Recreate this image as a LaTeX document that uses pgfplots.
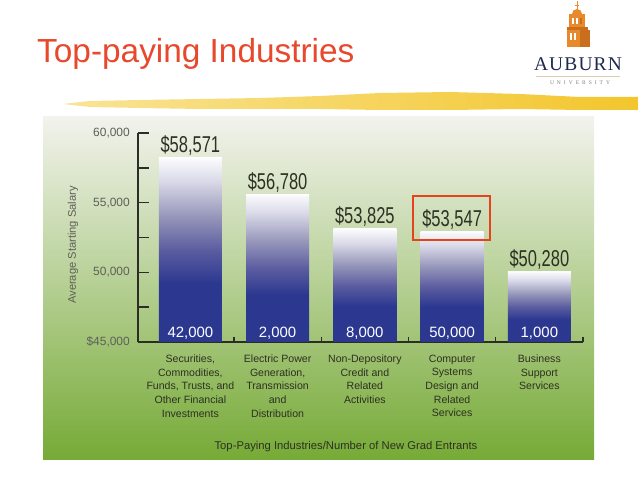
\documentclass[border=0pt]{standalone}
\usepackage{pgfplots}
\pgfplotsset{compat=1.18}
\usepackage{pgfplotstable}
\usepackage{fontspec}
\setmainfont{Liberation Sans}
\newfontfamily\narrowfont[FakeStretch=0.72]{Liberation Sans}
\newfontfamily\serifcaps[LetterSpace=6]{Liberation Serif}
\newfontfamily\tinycaps[LetterSpace=55]{Liberation Serif}

\definecolor{titlecol}{RGB}{232,72,44}
\definecolor{pTop}{RGB}{242,243,237}
\definecolor{pMid}{RGB}{189,210,145}
\definecolor{pBot}{RGB}{118,170,54}
\definecolor{bTop}{RGB}{246,246,250}
\definecolor{bT2}{RGB}{220,220,234}
\definecolor{bM1}{RGB}{150,150,186}
\definecolor{bM2}{RGB}{92,93,160}
\definecolor{bBot}{RGB}{44,56,144}
\definecolor{axcol}{RGB}{45,45,40}
\definecolor{tickcol}{RGB}{95,95,90}
\definecolor{labcol}{RGB}{45,48,35}
\definecolor{boxred}{RGB}{229,66,30}
\definecolor{auorange}{RGB}{232,137,43}
\definecolor{auorangeD}{RGB}{200,110,30}
\definecolor{aunavy}{RGB}{30,42,80}
\definecolor{yel}{RGB}{243,198,45}
\definecolor{yelL}{RGB}{249,228,150}
\definecolor{aurule}{RGB}{220,205,175}

\pgfdeclareverticalshading{barshade}{100bp}{color(0bp)=(bBot); color(25bp)=(bBot); color(41bp)=(bBot); color(50bp)=(bM2); color(59bp)=(bM1); color(69bp)=(bT2); color(74bp)=(bTop); color(75bp)=(white); color(100bp)=(white)}

\pgfplotstableread{
x sal lbl n
0 58240 58,571 42,000
1 55620 56,780 2,000
2 53120 53,825 8,000
3 52950 53,547 50,000
4 50070 50,280 1,000
}\datatable

\begin{document}
\begin{tikzpicture}
\useasboundingbox (0,0) rectangle (638bp,479bp);
\fill[white] (0,0) rectangle (638bp,479bp);
\begin{scope}[x=1bp,y=1bp]
  % green panel
  \shade[top color=pTop, middle color=pMid, bottom color=pBot] (43,19) rectangle (594,362);
  % yellow brush stroke
  \shade[left color=yelL, right color=yel]
    (63,375) -- (90,378) -- (140,379) -- (200,380) -- (260,381) -- (320,383) -- (380,386) -- (450,387) -- (520,385) -- (580,382) -- (638,382)
    -- (638,369) -- (580,369) -- (520,370) -- (450,369) -- (380,369) -- (320,370) -- (260,370) -- (200,370) -- (140,371) -- (90,372) -- cycle;
  % title
  \node[anchor=base west, inner sep=0pt, text=titlecol, font=\fontsize{33.5}{40}\selectfont] at (37,416) {Top-paying Industries};
  % logo tower
  \draw[auorange, line width=1bp] (577,478) -- (577,466);
  \draw[auorange, line width=0.8bp] (575,474) -- (579,474);
  \fill[auorange] (572,465) arc (180:0:5) -- cycle;
  \fill[auorange] (569,452) rectangle (585,465);
  \fill[white] (572,455) rectangle (573.6,461);
  \fill[white] (576,455) rectangle (577.6,461);
  \fill[auorangeD] (580,455) rectangle (581.6,461);
  \fill[auorangeD] (567,449) rectangle (588,452);
  \fill[auorange] (567,432) rectangle (580,449);
  \fill[auorangeD] (580,432) rectangle (590,449);
  \fill[white] (570,439) rectangle (572,446);
  \fill[white] (574,439) rectangle (576,446);
  \node[anchor=base, inner sep=0pt, text=aunavy, font=\serifcaps\fontsize{19.5}{22}\selectfont] at (578,408) {AUBURN};
  \draw[aurule, line width=0.6bp] (536,403) -- (620,403);
  \node[anchor=base, inner sep=0pt, text=gray, font=\tinycaps\fontsize{5.5}{6}\selectfont] at (580,394) {UNIVERSITY};
\end{scope}

\begin{axis}[
  at={(138bp,137bp)}, anchor=south west,
  scale only axis, width=445bp, height=209bp,
  xmin=-0.6, xmax=4.5, ymin=0, ymax=15000,
  scaled y ticks=false,
  axis lines=left,
  axis line style={-, draw=axcol, line width=1.4bp},
  tick align=inside,
  major tick length=11bp,
  ytick={0,2500,5000,7500,10000,12500,15000},
  yticklabels={{\$45,000},{},{50,000},{},{55,000},{},{60,000}},
  yticklabel style={font=\fontsize{12}{14}\selectfont, text=tickcol, inner sep=0pt, xshift=-8bp},
  ytick style={draw=axcol, line width=1.4bp},
  xtick={0,1,2,3,4},
  xticklabels={
    {Securities,\\Commodities,\\Funds, Trusts, and\\Other Financial\\Investments},
    {Electric Power\\Generation,\\Transmission\\and\\Distribution},
    {Non-Depository\\Credit and\\Related\\Activities},
    {Computer\\Systems\\Design and\\Related\\Services},
    {Business\\Support\\Services}},
  xtick style={draw=none},
  xticklabel style={font=\fontsize{10.6}{13.75}\selectfont, text=labcol, align=center, inner sep=0pt, yshift=-12.5bp},
  extra x ticks={0.5,1.5,2.5,3.5,4.5},
  extra x tick labels={},
  extra x tick style={major tick length=5bp, xtick style={draw=axcol, line width=1.4bp}},
  clip=false,
  /pgf/number format/assume math mode=true,
]
\pgfplotsinvokeforeach{0,1,2,3,4}{
\addplot[ybar, bar width=63bp, bar shift=0pt, draw=none,
  shading=barshade,
  x filter/.expression={abs(x-#1)<0.1 ? x : nan},
  nodes near coords={\$\pgfplotspointmeta}, point meta=explicit symbolic,
  every node near coord/.append style={anchor=base, inner sep=0pt, yshift=5bp,
     font=\narrowfont\fontsize{23}{26}\selectfont, text=labcol}]
  table[x=x, y expr=\thisrow{sal}-45000, meta=lbl] {\datatable};
}
\addplot[draw=none, mark=none,
  nodes near coords, point meta=explicit symbolic,
  every node near coord/.append style={anchor=base, inner sep=0pt, yshift=4bp,
     font=\fontsize{15}{17}\selectfont, text=white}]
  table[x=x, y expr=0, meta=n] {\datatable};
\end{axis}

\begin{scope}[x=1bp,y=1bp]
  \node[rotate=90, text=tickcol, font=\fontsize{11.2}{13}\selectfont] at (73,234) {Average Starting Salary};
  \node[anchor=base, inner sep=0pt, text=labcol, font=\fontsize{11.3}{13}\selectfont] at (346,30) {Top-Paying Industries/Number of New Grad Entrants};
  \draw[boxred, line width=2.5bp] (413,239) rectangle (490,283);
\end{scope}
\end{tikzpicture}
\end{document}
